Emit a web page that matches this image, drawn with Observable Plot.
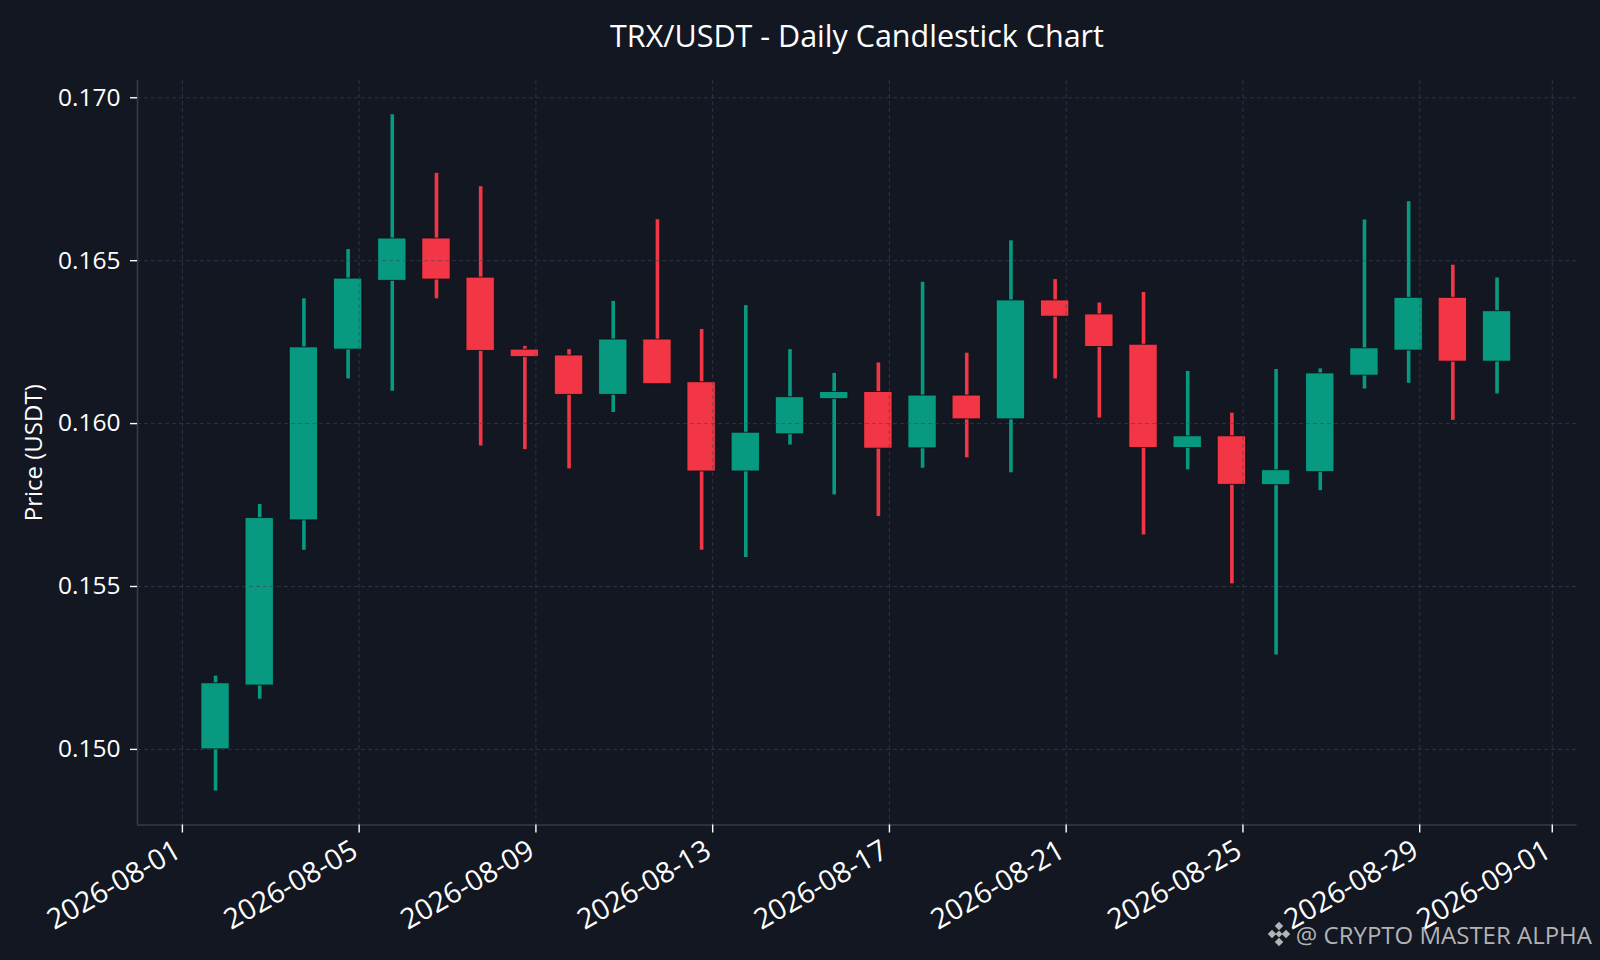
<!DOCTYPE html>
<html>
<head>
<meta charset="utf-8">
<script src="https://cdn.jsdelivr.net/npm/d3@7"></script>
<script src="https://cdn.jsdelivr.net/npm/@observablehq/plot@0.6"></script>
<style>
  html, body { margin: 0; padding: 0; background: #131722; }
  #wrap { position: relative; width: 1600px; height: 960px; overflow: hidden; background: #131722; }
  #title { position: absolute; left: 137px; top: 15px; width: 1440px; height: 40px; line-height: 40px;
           text-align: center; color: #ffffff; font-family: "Open Sans", sans-serif; font-size: 30.5px; font-weight: 400; }
  #chart { position: absolute; left: 0; top: 72px; }
  #wm { position: absolute; right: 8px; top: 917px; height: 34px; display: flex; align-items: center;
        color: rgba(215,215,215,0.82); font-family: "Open Sans", sans-serif; font-size: 24px; white-space: nowrap; }
  #wm svg { margin-right: 3px; }
</style>
</head>
<body>
<div id="wrap">
  <div id="title">TRX/USDT - Daily Candlestick Chart</div>
  <div id="chart"></div>
  <div id="wm"><svg width="28" height="28" viewBox="0 0 28 28"><g fill="rgba(215,215,215,0.82)">
    <rect x="11" y="3" width="6" height="6" transform="rotate(45 14 6)"/>
    <rect x="4" y="11" width="6" height="6" transform="rotate(45 7 14)"/>
    <rect x="18" y="11" width="6" height="6" transform="rotate(45 21 14)"/>
    <rect x="11.5" y="11.5" width="5" height="5" transform="rotate(45 14 14)"/>
    <rect x="11" y="19" width="6" height="6" transform="rotate(45 14 22)"/>
  </g></svg><span>@ CRYPTO MASTER ALPHA</span></div>
</div>
<script>
// ---- Data ----
const dates = [
  "2026-08-02","2026-08-03","2026-08-04","2026-08-05","2026-08-06","2026-08-07","2026-08-08","2026-08-09",
  "2026-08-10","2026-08-11","2026-08-12","2026-08-13","2026-08-14","2026-08-15","2026-08-16","2026-08-17",
  "2026-08-18","2026-08-19","2026-08-20","2026-08-21","2026-08-22","2026-08-23","2026-08-24","2026-08-25",
  "2026-08-26","2026-08-27","2026-08-28","2026-08-29","2026-08-30","2026-08-31"
];
const open = [
  0.15000, 0.15196, 0.15703, 0.16227, 0.16438, 0.16568, 0.16448, 0.16227,
  0.16209, 0.16088, 0.16258, 0.16127, 0.15853, 0.15967, 0.16075, 0.16097,
  0.15924, 0.16086, 0.16013, 0.16378, 0.16335, 0.16242, 0.15925, 0.15961,
  0.15811, 0.15851, 0.16147, 0.16224, 0.16386, 0.16190
];
const high = [
  0.15225, 0.15752, 0.16383, 0.16534, 0.16948, 0.16768, 0.16727, 0.16237,
  0.16227, 0.16375, 0.16626, 0.16289, 0.16362, 0.16227, 0.16154, 0.16186,
  0.16434, 0.16216, 0.16561, 0.16442, 0.16370, 0.16402, 0.16160, 0.16032,
  0.16166, 0.16168, 0.16625, 0.16681, 0.16486, 0.16447
];
const low = [
  0.14872, 0.15154, 0.15611, 0.16137, 0.16099, 0.16383, 0.15931, 0.15920,
  0.15861, 0.16034, 0.16121, 0.15611, 0.15589, 0.15934, 0.15781, 0.15715,
  0.15863, 0.15895, 0.15849, 0.16137, 0.16017, 0.15658, 0.15858, 0.15508,
  0.15290, 0.15794, 0.16106, 0.16124, 0.16010, 0.16091
];
const close = [
  0.15203, 0.15710, 0.16234, 0.16445, 0.16568, 0.16442, 0.16223, 0.16204,
  0.16088, 0.16258, 0.16121, 0.15853, 0.15972, 0.16081, 0.16097, 0.15923,
  0.16086, 0.16013, 0.16378, 0.16328, 0.16235, 0.15925, 0.15961, 0.15812,
  0.15857, 0.16154, 0.16231, 0.16386, 0.16190, 0.16345
];
const yTicks = [0.150, 0.155, 0.160, 0.165, 0.170];
const xTickLabels = ["2026-08-01","2026-08-05","2026-08-09","2026-08-13","2026-08-17",
                     "2026-08-21","2026-08-25","2026-08-29","2026-09-01"];

// ---- Build ----
const UP = "#089981", DOWN = "#f23645";
const candles = dates.map((d, i) => ({
  t: d3.utcHour.offset(new Date(d + "T00:00:00Z"), -6),
  o: open[i], h: high[i], l: low[i], c: close[i]
}));
const xTicks = xTickLabels.map(s => new Date(s + "T00:00:00Z"));
const halfW = 7.7 * 3600 * 1000;
const xDomain = [new Date("2026-07-30T23:37:00Z"), new Date("2026-09-01T13:26:00Z")];
const yDomain = [0.14768, 0.17053];
const col = d => d.c >= d.o ? UP : DOWN;
const gridStyle = {stroke: "#40465a", strokeOpacity: 0.6, strokeWidth: 1, strokeDasharray: "4,3"};

const chart = Plot.plot({
  width: 1600,
  height: 888,
  marginTop: 8,
  marginBottom: 135.5,
  marginLeft: 137,
  marginRight: 23.5,
  style: {background: "transparent", color: "#ffffff", fontFamily: "'Open Sans', sans-serif", fontSize: "24px"},
  x: {type: "utc", domain: xDomain, label: null},
  y: {domain: yDomain, label: null},
  color: {type: "identity"},
  marks: [
    Plot.ruleX(candles, {x: "t", y1: "l", y2: "h", stroke: col, strokeWidth: 3.6}),
    Plot.rect(candles, {
      x1: d => new Date(+d.t - halfW), x2: d => new Date(+d.t + halfW),
      y1: "o", y2: "c", fill: col, stroke: "#0b0e14", strokeWidth: 1, strokeOpacity: 0.8
    }),
    Plot.gridY(yTicks, gridStyle),
    Plot.gridX(xTicks, gridStyle),
    Plot.ruleX([xDomain[0]], {stroke: "#363b47", strokeWidth: 1.6}),
    Plot.ruleY([yDomain[0]], {stroke: "#363b47", strokeWidth: 1.6}),
    Plot.axisY(yTicks, {
      tickFormat: d3.format(".3f"), tickSize: 7, tickPadding: 10, fontSize: 24.5,
      stroke: "#ffffff", fill: "#ffffff", strokeWidth: 1.4, label: null
    }),
    // tick marks (aligned with the grid)
    Plot.axisX(xTicks, {
      tickFormat: () => "", tickSize: 8, stroke: "#ffffff", strokeWidth: 1.4, label: null
    }),
    // rotated tick labels
    Plot.axisX(xTicks, {
      tickFormat: d3.utcFormat("%Y-%m-%d"), tickRotate: -30, tickSize: 0, tickPadding: 23, dx: -4,
      fontSize: 28.5, fill: "#ffffff", label: null
    }),
    Plot.text(["Price (USDT)"], {
      frameAnchor: "left", textAnchor: "middle", dx: -103, rotate: -90, fontSize: 24, fill: "#ffffff"
    })
  ]
});
document.getElementById("chart").appendChild(chart);
</script>
</body>
</html>
